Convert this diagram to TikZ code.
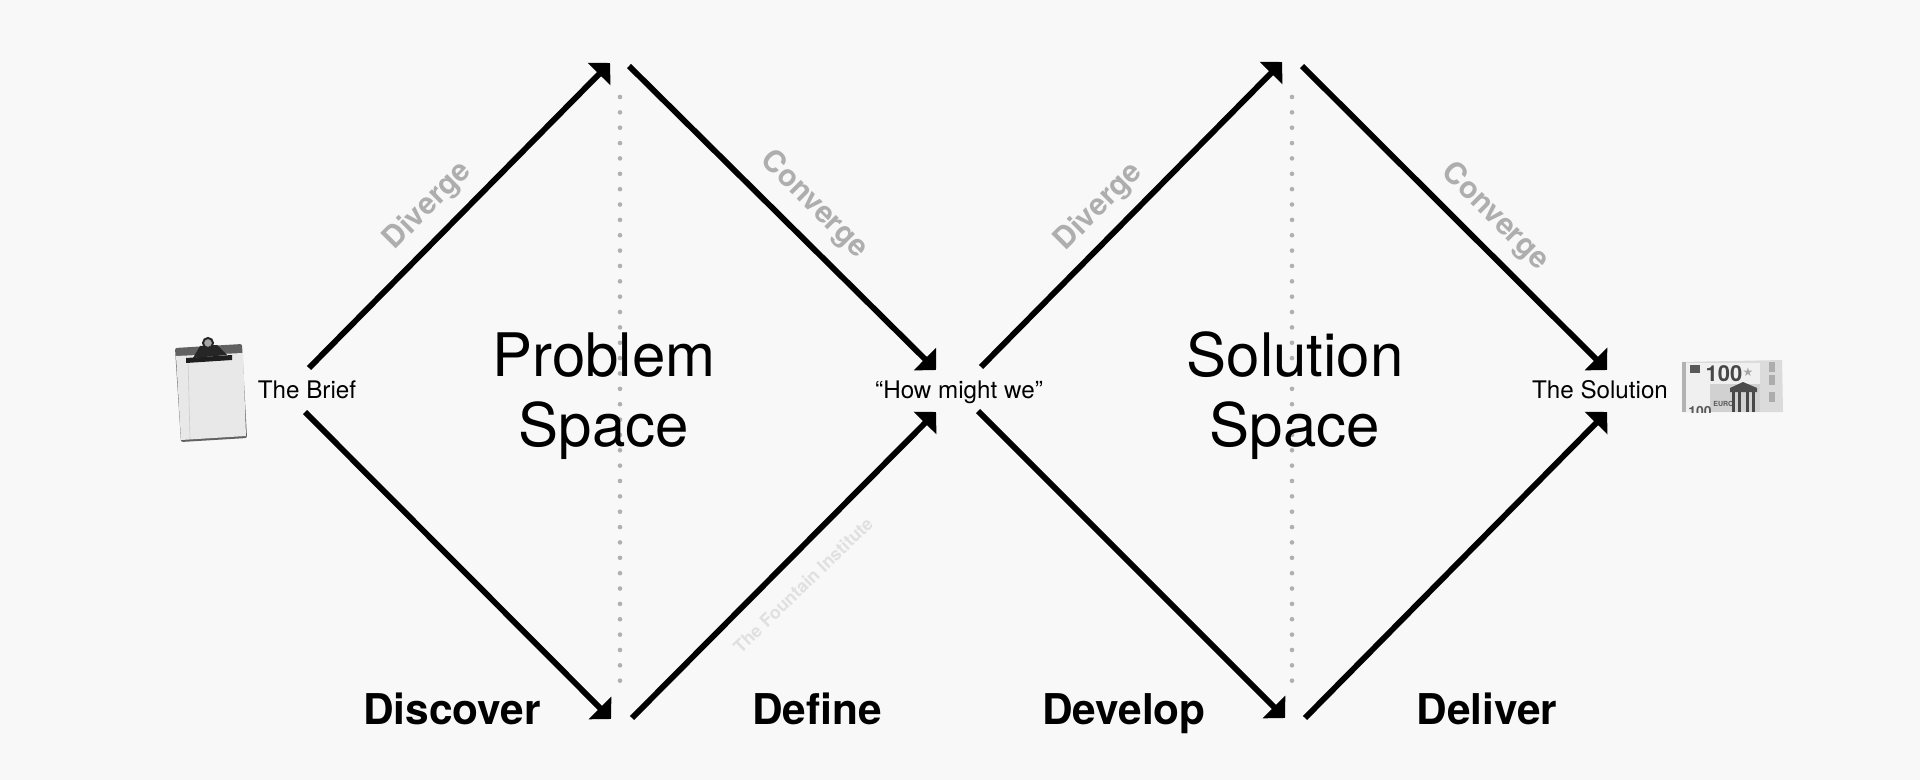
\documentclass[tikz,border=0pt]{standalone}
\usepackage{fontspec}
\setmainfont{TeX Gyre Heros}
\newfontfamily\symbolfont{DejaVu Sans}
\usetikzlibrary{arrows.meta}

\definecolor{papergrey}{HTML}{F8F8F8}
\definecolor{dotgrey}{HTML}{B0B0B0}
\definecolor{flowgrey}{HTML}{AEAEAE}
\definecolor{fountaingrey}{HTML}{E0E0E0}

\tikzset{
	flowline/.style = {->, line width = 2.9pt},
	dotline/.style = {dotgrey, line width = 2.3pt, line cap = round, dash pattern = on 0pt off 7.68pt},
	flowtext/.style = {flowgrey, font = \fontsize{15}{15}\selectfont\bfseries},
	phasetext/.style = {anchor = base, font = \fontsize{21.2}{22}\selectfont\bfseries},
	pointtext/.style = {anchor = base, font = \fontsize{12.1}{14}\selectfont},
	spacetext/.style = {align = center, font = \fontsize{30}{35}\selectfont}
}

\begin{document}
\begin{tikzpicture}[> = {Triangle[length = 7.8pt, width = 15.6pt]}, x = 0.5pt, y = -0.5pt]

	% Background
	
	\fill [papergrey] (0, 0) rectangle (1920, 780);
	\useasboundingbox (0, 0) rectangle (1920, 780);
	
	% Line ends
	
	\foreach \name/\x/\y in {aa/309/368, ab/610/63, ac/629/66, ad/936/370, ae/305/412, af/611/719, ag/632/718, ah/936/412, ba/981/367, bb/1282/62, bc/1302/66, bd/1607/370, be/978/411, bf/1285/718, bg/1305/718, bh/1607/412, pa/620/97, pb/620/683, sa/1292/97, sb/1292/683}
	{
		\coordinate (\name) at (\x, \y);
	}
	
	% Dotted middle lines
	
	\draw [dotline] (pa) -- (pb);
	\draw [dotline] (sa) -- (sb);
	
	% The two diamonds
	
	\foreach \from/\to in {aa/ab, ac/ad, ae/af, ag/ah, ba/bb, bc/bd, be/bf, bg/bh}
	{
		\draw [flowline] (\from) -- (\to);
	}
	
	% Labels along the lines
	
	\foreach \i/\x/\y/\ang/\txt in {1/428/206/45/Diverge, 2/814/205/-45/Converge, 3/1099/207/45/Diverge, 4/1495/217/-45/Converge}
	{
		\node [flowtext, rotate = \ang] (flow\i) at (\x, \y) {\txt};
	}
	\node [fountaingrey, rotate = 44, font = \fontsize{8.9}{10}\selectfont\bfseries] (fountain) at (803, 585) {The Fountain Institute};
	
	% Phases
	
	\foreach \x/\txt in {452/Discover, 817/Define, 1124/Develop, 1487/Deliver}
	{
		\node [phasetext] (\txt) at (\x, 724) {\txt};
	}
	
	% Spaces and points
	
	\node [spacetext] (problem) at (604, 396) {Problem\\Space};
	\node [spacetext] (solution) at (1295, 396) {Solution\\Space};
	\node [pointtext] (brief) at (307, 398) {The Brief};
	\node [pointtext] (how) at (959, 398) {“How might we”};
	\node [pointtext] (answer) at (1600, 398) {The Solution};
	
	% Clipboard
	
	\fill [black!62, rounded corners = 1pt] (175, 348) -- (242, 344) -- (247, 438) -- (181, 442) -- cycle;
	\fill [black!9] (176, 356) -- (243, 353) -- (246, 436) -- (181, 440) -- cycle;
	\draw [black!20, line width = 0.3pt] (188, 358) -- (190, 439);
	\fill [black!88] (186, 358) -- (232, 355) -- (232, 360) -- (186, 363) -- cycle;
	\fill [black!85] (200, 346) -- (217, 345) -- (227, 355) -- (193, 358) -- cycle;
	\draw [black!85, line width = 1pt, fill = black!35] (208, 343) circle [radius = 5];
	
	% Banknote
	
	\fill [black!14] (1682, 362) -- (1782, 360) -- (1783, 412) -- (1682, 412) -- cycle;
	\fill [black!30] (1682, 362) rectangle (1686, 412);
	\fill [black!6] (1686, 363) rectangle (1760, 412);
	\fill [black!18] (1710, 384) rectangle (1760, 412);
	\fill [black!65] (1690, 365) rectangle (1700, 373);
	\node [inner sep = 0, text = black!72, font = \fontsize{11}{11}\selectfont\bfseries] (hundred) at (1724, 373.5) {100};
	\node [inner sep = 0, text = black!35, font = \fontsize{6}{7}\symbolfont\selectfont] (star) at (1748, 372) {★};
	\begin{scope}
		\clip (1682, 400) rectangle (1783, 412);
		\node [inner sep = 0, text = black!65, font = \fontsize{7}{7}\selectfont\bfseries] (hundredb) at (1700, 411) {100};
	\end{scope}
	\node [inner sep = 0, text = black!65, font = \fontsize{3.5}{4}\selectfont\bfseries] (euro) at (1723.5, 404) {EURO};
	\fill [black!70] (1730, 388) -- (1743, 382) -- (1757, 388) -- (1757, 392) -- (1730, 392) -- cycle;
	\foreach \x in {1732, 1738, 1746, 1752}
	{
		\fill [black!72] (\x, 392) rectangle +(3, 20);
	}
	\foreach \y/\h in {362/10, 375/10, 392/10}
	{
		\fill [black!32] (1769, \y) rectangle +(6, \h);
	}

\end{tikzpicture}
\end{document}
